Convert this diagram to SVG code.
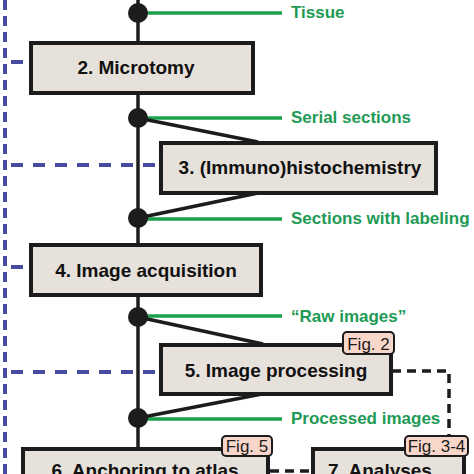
<svg xmlns="http://www.w3.org/2000/svg" width="474" height="474" viewBox="0 0 474 474">
<style>
.box{fill:#e7e1db;stroke:#1c1c1c;stroke-width:4}
.t{font-family:"Liberation Sans",Arial,sans-serif;font-weight:bold;font-size:19px;fill:#111;text-anchor:middle}
.g{font-family:"Liberation Sans",Arial,sans-serif;font-weight:bold;font-size:17px;fill:#1e9a55}
.gl{stroke:#1ba04c;stroke-width:3.5}
.bl{stroke:#1c1c1c;stroke-width:3.5;fill:none}
.dot{fill:#1c1c1c}
.blue{stroke:#454b9e;stroke-width:4;fill:none}
.kd{stroke:#1c1c1c;stroke-width:3.5;fill:none;stroke-dasharray:9 6}
.fig{fill:#f8d7ca;stroke:#1c1c1c;stroke-width:2}
.ft{font-family:"Liberation Sans",Arial,sans-serif;font-size:17px;fill:#1c1c1c;text-anchor:middle}
</style>
<g id="connectors">
<line class="blue" x1="5" y1="0" x2="5" y2="474" stroke-dasharray="10 6"/>
<line class="blue" x1="5" y1="62" x2="29" y2="62" stroke-dasharray="12 10" stroke-dashoffset="-6"/>
<line class="blue" x1="5" y1="165" x2="160" y2="165" stroke-dasharray="12 10" stroke-dashoffset="-6"/>
<line class="blue" x1="5" y1="267" x2="29" y2="267" stroke-dasharray="12 10" stroke-dashoffset="-6"/>
<line class="blue" x1="5" y1="372" x2="160" y2="372" stroke-dasharray="12 10" stroke-dashoffset="-6"/>
<line class="bl" x1="138" y1="0" x2="138" y2="447"/>
<line class="gl" x1="138" y1="13" x2="282" y2="13"/>
<line class="gl" x1="138" y1="118" x2="282" y2="118"/>
<line class="gl" x1="138" y1="219" x2="282" y2="219"/>
<line class="gl" x1="138" y1="316" x2="282" y2="316"/>
<line class="gl" x1="138" y1="419" x2="282" y2="419"/>
<line class="bl" x1="138" y1="118" x2="258" y2="142"/>
<line class="bl" x1="258" y1="193" x2="138" y2="218"/>
<line class="bl" x1="138" y1="317" x2="263" y2="344"/>
<line class="bl" x1="262" y1="394" x2="138" y2="418"/>
<polyline class="kd" points="392,371 449,371 449,437"/>
<line class="kd" x1="270" y1="471" x2="312" y2="471" stroke-width="4.5"/>
<circle class="dot" cx="138" cy="13" r="10"/>
<circle class="dot" cx="138" cy="118" r="10"/>
<circle class="dot" cx="138" cy="218" r="10"/>
<circle class="dot" cx="138" cy="317" r="10"/>
<circle class="dot" cx="138" cy="418" r="10"/>
</g>
<g id="tissue"><text class="g" x="291" y="18">Tissue</text></g>
<g id="serial"><text class="g" x="291" y="123">Serial sections</text></g>
<g id="labeled"><text class="g" x="291" y="224">Sections with labeling</text></g>
<g id="raw"><text class="g" x="291" y="322">“Raw images”</text></g>
<g id="processed"><text class="g" x="291" y="424">Processed images</text></g>
<g id="n2"><rect class="box" x="31" y="43" width="222" height="50"/><text class="t" x="136" y="73.5">2. Microtomy</text></g>
<g id="n3"><rect class="box" x="161" y="143" width="275" height="50"/><text class="t" x="300" y="173.5">3. (Immuno)histochemistry</text></g>
<g id="n4"><rect class="box" x="31" y="245" width="230" height="50"/><text class="t" x="146" y="276.5">4. Image acquisition</text></g>
<g id="n5"><rect class="box" x="161" y="345" width="230" height="49"/><text class="t" x="276" y="376.5">5. Image processing</text>
<rect class="fig" x="343" y="332" width="51" height="22" rx="4"/><text class="ft" x="368.5" y="349.5">Fig. 2</text></g>
<g id="n6"><rect class="box" x="23" y="449" width="245" height="40"/><text class="t" x="145" y="477">6. Anchoring to atlas</text>
<rect class="fig" x="222" y="436" width="50" height="20" rx="4"/><text class="ft" x="247" y="452">Fig. 5</text></g>
<g id="n7"><rect class="box" x="313" y="449" width="151" height="40"/><text class="t" x="380" y="477">7. Analyses</text>
<rect class="fig" x="405" y="436" width="63" height="20" rx="4"/><text class="ft" x="436.5" y="452">Fig. 3-4</text></g>
</svg>
